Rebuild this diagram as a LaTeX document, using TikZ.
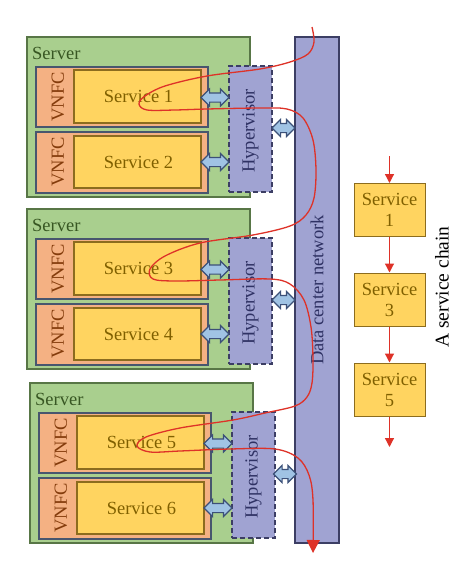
\documentclass[tikz,border=0pt]{standalone}
\usepackage{fontspec}
\setmainfont{Liberation Serif}
\usetikzlibrary{shapes.arrows,arrows.meta,calc}
\definecolor{srvfill}{RGB}{169,207,142}
\definecolor{srvdraw}{RGB}{88,118,70}
\definecolor{srvtext}{RGB}{56,87,35}
\definecolor{vnffill}{RGB}{244,177,131}
\definecolor{vnfdraw}{RGB}{72,86,110}
\definecolor{vnftext}{RGB}{132,60,12}
\definecolor{svcfill}{RGB}{255,212,96}
\definecolor{svcdraw}{RGB}{140,108,30}
\definecolor{svctext}{RGB}{128,96,0}
\definecolor{hypfill}{RGB}{160,163,210}
\definecolor{hypdraw}{RGB}{60,62,100}
\definecolor{hyptext}{RGB}{47,50,100}
\definecolor{arrfill}{RGB}{160,195,228}
\definecolor{arrdraw}{RGB}{60,80,120}
\definecolor{flowred}{RGB}{222,50,40}
\tikzset{
  x=1pt,y=-1pt,
  txt/.style={font=\fontsize{18.5}{21}\selectfont},
  base/.style={inner sep=0pt,outer sep=0pt,anchor=north west,line width=1.2pt},
  srvbox/.style={base,fill=srvfill,draw=srvdraw},
  vnfbox/.style={base,fill=vnffill,draw=vnfdraw},
  svcbox/.style={base,fill=svcfill,draw=svcdraw},
  svclabel/.style={txt,text=svctext,inner sep=0pt},
  hypbox/.style={base,fill=hypfill,draw=hypdraw,dashed,dash pattern=on 5pt off 3pt},
  dcnbox/.style={base,fill=hypfill,draw=hypdraw},
  srvlabel/.style={txt,inner sep=0pt,anchor=west,text=srvtext},
  vlabel/.style={txt,inner sep=0pt,rotate=90},
  dbl/.style={double arrow,draw=arrdraw,fill=arrfill,line width=1.1pt,inner xsep=0pt,inner ysep=4pt,
    font=\fontsize{1}{1}\selectfont,double arrow head extend=4pt,double arrow tip angle=90},
  chainbox/.style={txt,draw=svcdraw,fill=svcfill,text=svctext,line width=1pt,inner sep=0pt,
    minimum width=71pt,minimum height=53pt,align=center},
  chainarrow/.style={draw=flowred,line width=1.2pt,-{Triangle[width=9pt,length=9pt]}},
  flow/.style={draw=flowred,line width=1.3pt,-{Triangle[width=13pt,length=13pt]}},
}
\begin{document}
\begin{tikzpicture}
\fill[white] (0,0) rectangle (474,579);
\useasboundingbox (0,0) rectangle (474,579);
% data center network
\node[dcnbox,minimum width=44pt,minimum height=506pt] (dcn) at (295,37) {};
\node[vlabel,text=hyptext] (dcnlab) at (dcn.center) {Data center network};
% servers
\foreach \i/\t/\dx/\a/\b in {1/37/0/1/2,2/209/0/3/4,3/383/3/5/6}{
  \node[srvbox,minimum width=223pt,minimum height=160pt] (srv\i) at (27+\dx,\t) {};
  \node[srvlabel] (srvlab\i) at (32+\dx,\t+16) {Server};
  \node[vnfbox,minimum width=172pt,minimum height=60pt] (vA\i) at (36+\dx,\t+30) {};
  \node[svcbox,minimum width=127pt,minimum height=53pt] (sA\i) at (74+\dx,\t+33) {};
  \node[svclabel] (tA\i) at ($(sA\i.center)+(1,0)$) {Service \a};
  \node[vlabel,text=vnftext] (lA\i) at (58+\dx,\t+60) {VNFC};
  \node[vnfbox,minimum width=172pt,minimum height=61pt] (vB\i) at (36+\dx,\t+95) {};
  \node[svcbox,minimum width=127pt,minimum height=52pt] (sB\i) at (74+\dx,\t+99) {};
  \node[svclabel] (tB\i) at ($(sB\i.center)+(1,0)$) {Service \b};
  \node[vlabel,text=vnftext] (lB\i) at (58+\dx,\t+125) {VNFC};
  \node[hypbox,minimum width=43pt,minimum height=126pt] (h\i) at (229+\dx,\t+29) {};
  \node[vlabel,text=hyptext] (hl\i) at ($(h\i.center)+(0,2)$) {Hypervisor};
  \node[dbl,minimum height=28pt] (dA\i) at ($(sA\i.east)!0.5!(h\i.west |- sA\i.east)+(0,1)$) {};
  \node[dbl,minimum height=28pt] (dB\i) at ($(sB\i.east)!0.5!(h\i.west |- sB\i.east)$) {};
  \node[dbl,minimum height=23pt] (dH\i) at ($(h\i.east)!0.5!(dcn.west |- h\i.east)+(0,-1)$) {};
}
% flow through the service chain
\draw[flow] plot[smooth,tension=0.55] coordinates {
 (312,27) (314,42) (308,54) (290,62) (260,69) (207,76) (165,86) (145,96) (139,104) (147,110)
 (175,110) (207,109) (260,108) (287,109) (303,118) (313,140) (316,170) (314,198) (306,215)
 (290,226) (253,235) (200,243) (165,256) (150,269) (153,279) (175,281) (220,280) (270,279)
 (290,284) (304,300) (311,327) (313,358) (312,383) (307,397) (295,406) (265,413) (233,420)
 (180,428) (146,437) (137,446) (150,452) (180,451) (230,449) (275,449) (298,458) (309,475)
 (313,500) (313,553)};
% service chain
\node[chainbox] (c1) at (389.5,210) {Service\\1};
\node[chainbox] (c3) at (389.5,299.5) {Service\\3};
\node[chainbox] (c5) at (389.5,389.5) {Service\\5};
\coordinate (ctop) at (389.5,156);
\coordinate (cbot) at (389.5,447);
\draw[chainarrow] (ctop) -- (c1);
\draw[chainarrow] (c1) -- (c3);
\draw[chainarrow] (c3) -- (c5);
\draw[chainarrow] (c5) -- (cbot);
\node[vlabel,font=\fontsize{19.5}{22}\selectfont] (chainlab) at (442,287) {A service chain};
\end{tikzpicture}
\end{document}
